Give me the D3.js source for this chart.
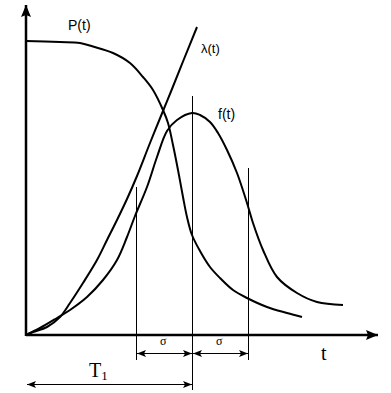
<!DOCTYPE html>
<html>
<head>
<meta charset="utf-8">
<script src="https://cdn.jsdelivr.net/npm/d3@7"></script>
<style>
  body { margin: 0; background: #fff; }
  svg { display: block; }
</style>
</head>
<body>
<script>
// curves (arbitrary units, t on 0..35, value on 0..33)
var pT = [0, 3.4, 5.4, 6.7, 8.7, 10.4, 11.7, 12.7, 13.7, 14.2, 14.7, 15.2, 15.7, 16.1, 16.6, 17.4, 18.4, 19.4, 20.7, 22.1, 24.1, 26.1, 27.6]
var pV = [29.4, 29.3, 29.2, 28.85, 28.2, 27.2, 25.8, 24.5, 22.5, 21.2, 19, 16.5, 13.8, 11.8, 10, 8.4, 6.8, 5.7, 4.5, 3.7, 2.8, 2.2, 1.8]

var lamT = [0, 0.7, 2.1, 3.4, 4.4, 5.7, 7.1, 8.1, 9.1, 10.1, 11.1, 12.4, 13.7, 14.6, 15.8, 17.1]
var lamV = [0, 0.3, 0.8, 1.8, 3.2, 5.2, 7.5, 9.5, 11.5, 13.6, 15.9, 19.2, 22.4, 24.6, 27.6, 30.8]

var fT = [0, 1.4, 3.1, 4.4, 6.1, 7.7, 9.1, 10.1, 10.9, 12.1, 13.1, 14.1, 15.1, 16.6, 17.4, 18.4, 19.2, 20.1, 21.1, 22.1, 22.7, 23.7, 25.1, 27.1, 29.1, 31.7]
var fV = [0, 0.7, 1.7, 2.5, 3.8, 5.5, 7.5, 9.8, 11.9, 14.8, 17.8, 20.4, 21.5, 22.2, 22.0, 21.3, 20.2, 18.5, 16.2, 13.2, 11.2, 8.5, 5.8, 4.2, 3.3, 3.0]

var T1 = 16.6
var sigma = 5.6

var width = 391, height = 393

var x = d3.scaleLinear().domain([0, 35]).range([26, 376])
var y = d3.scaleLinear().domain([0, 33]).range([335, 5])

var svg = d3.select("body").append("svg")
  .attr("width", width)
  .attr("height", height)

var defs = svg.append("defs")
function marker(id, len, half) {
  defs.append("marker")
    .attr("id", id)
    .attr("viewBox", "0 0 " + len + " " + (half * 2))
    .attr("refX", len).attr("refY", half)
    .attr("markerWidth", len).attr("markerHeight", half * 2)
    .attr("markerUnits", "userSpaceOnUse")
    .attr("orient", "auto-start-reverse")
    .append("path")
    .attr("d", "M0,0L" + len + "," + half + "L0," + (half * 2) + "L2," + half + "Z")
    .attr("fill", "#000")
}
marker("big", 12, 5)
marker("small", 9, 3.5)

// axes
svg.append("line")
  .attr("x1", x(0)).attr("y1", y(0))
  .attr("x2", x(35.2)).attr("y2", y(0))
  .attr("stroke", "#000").attr("stroke-width", 2.5)
  .attr("marker-end", "url(#big)")
svg.append("line")
  .attr("x1", x(0)).attr("y1", y(-0.1))
  .attr("x2", x(0)).attr("y2", y(33))
  .attr("stroke", "#000").attr("stroke-width", 2.5)
  .attr("marker-end", "url(#big)")

var line = d3.line()
  .x(function(d) { return x(d[0]) })
  .y(function(d) { return y(d[1]) })
  .curve(d3.curveCatmullRom.alpha(0.5))

function zip(a, b) { return a.map(function(v, i) { return [v, b[i]] }) }

var curves = [zip(pT, pV), zip(lamT, lamV), zip(fT, fV)]
svg.selectAll(".curve")
  .data(curves)
  .enter().append("path")
  .attr("class", "curve")
  .attr("d", line)
  .attr("fill", "none")
  .attr("stroke", "#000")
  .attr("stroke-width", 2)

// vertical guide lines
var guides = [
  { t: T1 - sigma, top: 14.8, bottom: -2.5 },
  { t: T1, top: 23.9, bottom: -5.5 },
  { t: T1 + sigma, top: 16.7, bottom: -2.5 }
]
svg.selectAll(".guide")
  .data(guides)
  .enter().append("line")
  .attr("x1", function(d) { return x(d.t) + 0.5 })
  .attr("x2", function(d) { return x(d.t) + 0.5 })
  .attr("y1", function(d) { return y(d.top) })
  .attr("y2", function(d) { return y(d.bottom) })
  .attr("stroke", "#000").attr("stroke-width", 1)
  .attr("shape-rendering", "crispEdges")

// dimension arrows
var dims = [
  { a: T1 - sigma, b: T1, v: -1.8 },
  { a: T1, b: T1 + sigma, v: -1.8 },
  { a: 0, b: T1, v: -4.9 }
]
svg.selectAll(".dim")
  .data(dims)
  .enter().append("line")
  .attr("x1", function(d) { return x(d.a) + 1 })
  .attr("x2", function(d) { return x(d.b) })
  .attr("y1", function(d) { return y(d.v) + 0.5 })
  .attr("y2", function(d) { return y(d.v) + 0.5 })
  .attr("stroke", "#000").attr("stroke-width", 1)
  .attr("marker-start", "url(#small)")
  .attr("marker-end", "url(#small)")

// labels
var sans = "Liberation Sans, Arial, sans-serif"
var serif = "Liberation Serif, Times New Roman, serif"
function label(txt, t, v, size, fam) {
  return svg.append("text")
    .attr("x", x(t)).attr("y", y(v))
    .attr("font-family", fam).attr("font-size", size)
    .text(txt)
}
label("P(t)", 4.2, 30.5, 14, sans)
label("\u03bb(t)", 17.5, 28.2, 13, sans)
label("f(t)", 19.2, 21.6, 14, sans)
label("\u03c3", T1 - sigma / 2 - 0.4, -1.0, 12, serif)
label("\u03c3", T1 + sigma / 2 - 0.4, -1.0, 12, serif)
label("t", 29.5, -2.5, 20, serif)

var t1 = svg.append("text")
  .attr("x", x(6.3)).attr("y", y(-4.2))
  .attr("font-family", serif).attr("font-size", 20)
t1.append("tspan").text("T")
t1.append("tspan").attr("font-size", 13).attr("dy", 3).text("1")
</script>
</body>
</html>
